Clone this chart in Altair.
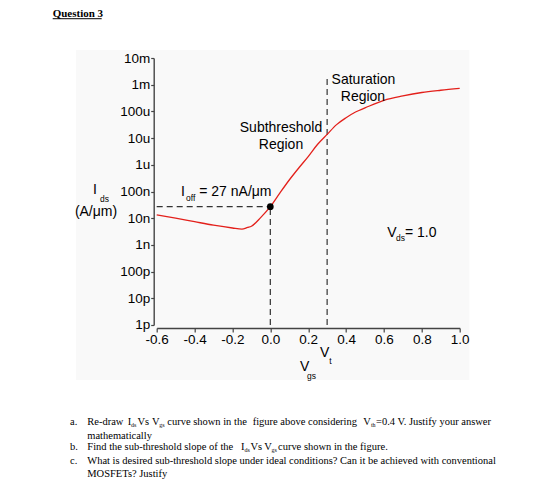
import altair as alt
import pandas as pd

# ---- data ----
vgs = [-0.6, -0.5, -0.4, -0.3, -0.2, -0.15, -0.12, -0.1, -0.05, 0.0, 0.05, 0.1, 0.15,
       0.2, 0.25, 0.3, 0.35, 0.4, 0.45, 0.5, 0.6, 0.7, 0.8, 0.9, 1.0]
ids = [1.32e-8, 1.0e-8, 7.4e-9, 5.5e-9, 4.3e-9, 3.9e-9, 4.5e-9, 5.0e-9, 1.07e-8, 2.7e-8,
       8.7e-8, 2.7e-7, 7.6e-7, 2.04e-6, 5.9e-6, 1.38e-5, 3.2e-5, 5.8e-5, 9.5e-5, 1.35e-4,
       2.6e-4, 3.8e-4, 5.1e-4, 6.2e-4, 7.3e-4]
x_ticks = [-0.6, -0.4, -0.2, 0.0, 0.2, 0.4, 0.6, 0.8, 1.0]
x_tick_labels = ["-0.6", "-0.4", "-0.2", "0.0", "0.2", "0.4", "0.6", "0.8", "1.0"]
y_ticks = [1e-12, 1e-11, 1e-10, 1e-9, 1e-8, 1e-7, 1e-6, 1e-5, 1e-4, 1e-3, 1e-2]
y_tick_labels = ["1p", "10p", "100p", "1n", "10n", "100n", "1u", "10u", "100u", "1m", "10m"]
ioff_v, ioff_i = 0.0, 2.7e-8
vt = 0.3
vt_top = 1.78e-3

W, H = 303, 267
SANS = "Liberation Sans"
SERIF = "Liberation Serif"

xs = alt.Scale(domain=[-0.6, 1.0], nice=False, zero=False)
ys = alt.Scale(type="log", domain=[1e-12, 1e-2], nice=False)
x_lab_expr = "[" + ",".join("'%s'" % s for s in x_tick_labels) + "][round((datum.value + 0.6) / 0.2)]"
y_lab_expr = "[" + ",".join("'%s'" % s for s in y_tick_labels) + "][round(log(datum.value) / LN10) + 12]"
xa = alt.Axis(values=x_ticks, labelExpr=x_lab_expr, title=None, grid=False, offset=3,
              tickSize=4, labelFontSize=13.5, labelFont=SANS, labelColor="#000",
              domainColor="#444", tickColor="#444", domainWidth=1.4, tickWidth=1.2,
              labelPadding=1, zindex=1, labelFlush=False, labelOverlap=False)
ya = alt.Axis(values=y_ticks, labelExpr=y_lab_expr, title=None, grid=False, offset=3,
              tickSize=3, labelFontSize=13.5, labelFont=SANS, labelColor="#000",
              domainColor="#444", tickColor="#444", domainWidth=1.4, tickWidth=1.2,
              labelPadding=1, zindex=1, labelFlush=False, labelOverlap=False)

curve = pd.DataFrame({"vgs": vgs, "ids": ids})

bg = alt.Chart(pd.DataFrame({"a": [0]})).mark_rect(color="#f9f9f9").encode(
    x=alt.value(-80.7), x2=alt.value(312.6), y=alt.value(-8), y2=alt.value(322))

line = alt.Chart(curve).mark_line(color="#e3201b", strokeWidth=1.3, interpolate="monotone").encode(
    x=alt.X("vgs:Q", scale=xs, axis=xa),
    y=alt.Y("ids:Q", scale=ys, axis=ya),
)

rules_df = pd.DataFrame({
    "x": [-0.6, ioff_v, vt],
    "x2": [ioff_v, ioff_v, vt],
    "y": [ioff_i, 1e-12, 1e-12],
    "y2": [ioff_i, ioff_i, vt_top],
})
rules = alt.Chart(rules_df).mark_rule(color="#333", strokeWidth=1.2, strokeDash=[6, 4]).encode(
    x=alt.X("x:Q", scale=xs, axis=xa), x2="x2:Q",
    y=alt.Y("y:Q", scale=ys, axis=ya), y2="y2:Q",
)

pt = alt.Chart(pd.DataFrame({"x": [ioff_v], "y": [ioff_i]})).mark_point(
    filled=True, color="#000", size=45, opacity=1).encode(
    x=alt.X("x:Q", scale=xs, axis=xa), y=alt.Y("y:Q", scale=ys, axis=ya))

plot = alt.layer(bg, rules, line, pt)


def texts(rows, size, font=SANS, align="left", weight="normal", color="#000", baseline="middle"):
    df = pd.DataFrame(rows, columns=["t", "px", "py"])
    return alt.Chart(df).mark_text(fontSize=size, font=font, align=align, baseline=baseline,
                                   fontWeight=weight, color=color).encode(
        x=alt.X("px:Q", scale=None, axis=None),
        y=alt.Y("py:Q", scale=None, axis=None),
        text="t:N")


ann_left = texts([
    ["I", -63.7, 132], ["I", 24.3, 133.7], ["= 27 nA/μm", 42.6, 133.7],
    ["V", 230.6, 175.3], ["= 1.0", 248.3, 175.3],
    ["V", 163.3, 295.3], ["V", 143.3, 309],
], 14)
ann_center = texts([
    ["(A/μm)", -60.7, 153.7],
    ["Saturation", 206.8, 22], ["Region", 206.3, 38.7],
    ["Subthreshold", 124.3, 69.7], ["Region", 124.3, 87],
], 14, align="center")
ann_sub = texts([
    ["ds", -56.7, 141], ["off", 29.3, 140], ["ds", 239.3, 180.3],
    ["t", 172.6, 303], ["gs", 150.3, 318],
], 8.5)

q_title = texts([["Question 3", -104, -49.6]], 11, font=SERIF, weight="bold", baseline="top")
q_line = alt.Chart(pd.DataFrame({"a": [0]})).mark_rule(color="#000", strokeWidth=1).encode(
    x=alt.value(-104), x2=alt.value(-55), y=alt.value(-39.3))

q_text = texts([
    ["a.", -86.7, 364.5], ["Re-draw", -69.4, 364.5], ["I", -29, 364.5],
    ["Vs", -19.2, 364.5], ["V", -4.7, 364.5],
    ["curve shown in the", 10.6, 364.5], ["figure above considering", 96, 364.5],
    ["V", 206.6, 364.5], ["=0.4 V. Justify your answer", 219.3, 364.5],
    ["mathematically", -69.4, 378],
    ["b.", -86.7, 389.5], ["Find the sub-threshold slope of the", -69.4, 389.5],
    ["I", 84.3, 389.5], ["Vs", 93.8, 389.5], ["V", 107.6, 389.5],
    ["curve shown in the figure.", 121.3, 389.5],
    ["c.", -86.7, 403],
    ["What is desired sub-threshold slope under ideal conditions? Can it be achieved with conventional", -69.4, 403],
    ["MOSFETs? Justify", -69.4, 415.7],
], 10.5, font=SERIF)
q_sub = texts([
    ["ds", -25.6, 367.5], ["gs", 2.6, 367.5], ["th", 214.2, 367.5],
    ["ds", 87.9, 392.5], ["gs", 114.9, 392.5],
], 6, font=SERIF)

chart = alt.layer(
    plot, ann_left, ann_center, ann_sub, q_title, q_line, q_text, q_sub
).resolve_scale(x="independent", y="independent").properties(
    width=W, height=H,
    padding={"left": 148.7, "top": 50, "right": 70, "bottom": 158},
    autosize=alt.AutoSizeParams(type="none"),
    background="white",
).configure_view(stroke=None)

chart.save("out.html", embed_options={"renderer": "svg", "actions": False})
